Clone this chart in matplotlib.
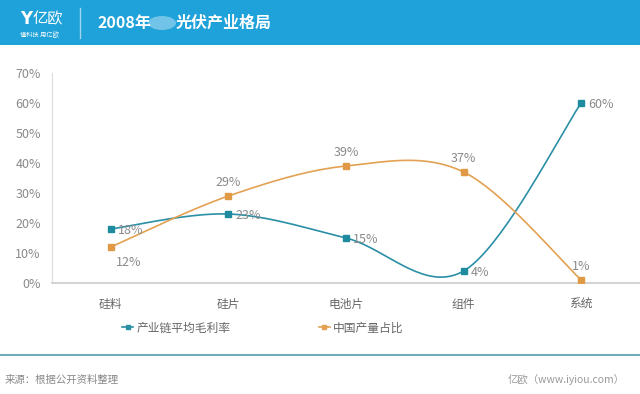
import numpy as np
import matplotlib
matplotlib.use("Agg")
import matplotlib.pyplot as plt
from matplotlib.lines import Line2D
from matplotlib.patches import Rectangle, Ellipse

plt.rcParams['font.family'] = ['Noto Sans CJK SC', 'DejaVu Sans']

categories = ['硅料', '硅片', '电池片', '组件', '系统']
margin = [18, 23, 15, 4, 60]       # 产业链平均毛利率 (%)
china_share = [12, 29, 39, 37, 1]  # 中国产量占比 (%)
series_names = ['产业链平均毛利率', '中国产量占比']
yticks = [0, 10, 20, 30, 40, 50, 60, 70]

BLUE = '#2b8fa6'
BLUE_M = '#1f8b9e'
ORANGE = '#e3a153'
ORANGE_M = '#e09a45'
GRAY = '#8a8a8a'


def smooth(y, n=40):
    """Excel-like smooth line: cubic Bezier with Catmull-Rom tangents."""
    y = np.asarray(y, float)
    x = np.arange(len(y), dtype=float)
    xs, ys = [], []
    for i in range(len(y) - 1):
        p0 = np.array([x[i], y[i]])
        p3 = np.array([x[i + 1], y[i + 1]])
        pm = np.array([x[i - 1], y[i - 1]]) if i > 0 else p0
        pp = np.array([x[i + 2], y[i + 2]]) if i + 2 < len(y) else p3
        c1 = p0 + (p3 - pm) / 6.0
        c2 = p3 - (pp - p0) / 6.0
        t = np.linspace(0, 1, n)[:, None]
        pts = ((1 - t) ** 3) * p0 + 3 * ((1 - t) ** 2) * t * c1 + 3 * (1 - t) * t ** 2 * c2 + t ** 3 * p3
        xs.extend(pts[:, 0]); ys.extend(pts[:, 1])
    return np.array(xs), np.array(ys)


W, H = 640, 394
fig = plt.figure(figsize=(W / 100, H / 100), dpi=100)
fig.patch.set_facecolor('white')

# header band
fig.add_artist(Rectangle((0, 1 - 45 / H), 1, 45 / H, transform=fig.transFigure,
                         facecolor='#1fa1d9', edgecolor='none', zorder=0))
fig.add_artist(Line2D([80 / W, 80 / W], [1 - 38 / H, 1 - 8 / H], transform=fig.transFigure,
                      color='#9fd6ee', lw=1))
fig.text(20 / W, 1 - 19 / H, 'Y', color='white', fontsize=12, fontweight='bold',
         ha='left', va='center', family='DejaVu Sans')
fig.text(33 / W, 1 - 19 / H, '亿欧', color='white', fontsize=11, ha='left', va='center')
fig.text(20 / W, 1 - 35 / H, '懂科技 用亿欧', color='white', fontsize=4.5, ha='left', va='center')
fig.text(97 / W, 1 - 23 / H, '2008年', color='white', fontsize=11.5, fontweight='bold',
         ha='left', va='center')
fig.add_artist(Ellipse((162 / W, 1 - 23 / H), 28 / W, 14 / H, transform=fig.transFigure,
                       facecolor='#a9dcf1', edgecolor='none', alpha=0.6))
fig.text(176 / W, 1 - 23 / H, '光伏产业格局', color='white', fontsize=11.5, fontweight='bold',
         ha='left', va='center')

# plot area
ax = fig.add_axes([52 / W, (H - 283) / H, (640 - 52) / W, (283 - 73) / H])
ax.set_facecolor('none')
x = np.arange(len(categories))

sx, sy = smooth(margin)
ax.plot(sx, sy, color=BLUE, lw=1.2, zorder=3)
ax.plot(x, margin, ls='none', marker='s', ms=4.5, color=BLUE_M, zorder=4)
sx, sy = smooth(china_share)
ax.plot(sx, sy, color=ORANGE, lw=1.2, zorder=3)
ax.plot(x, china_share, ls='none', marker='s', ms=4.5, color=ORANGE_M, zorder=4)

for xi, v in zip(x, margin):
    ax.annotate(f'{v}%', (xi, v), xytext=(5, -1), textcoords='offset points',
                ha='left', va='center', fontsize=9, color=GRAY)
offsets = [(4, -11), (0, 10), (0, 10), (0, 10), (0, 10)]
for xi, v, off in zip(x, china_share, offsets):
    ax.annotate(f'{v}%', (xi, v), xytext=off, textcoords='offset points',
                ha='left' if off[0] > 0 else 'center', va='center', fontsize=9, color=GRAY)

ax.set_xlim(-0.5, len(categories) - 0.5)
ax.set_ylim(0, 70)
ax.set_yticks(yticks)
ax.set_yticklabels([f'{t}%' for t in yticks], fontsize=9, color=GRAY)
ax.set_xticks(x)
ax.set_xticklabels(categories, fontsize=8.5, color='#666666')
ax.tick_params(axis='y', length=0, pad=8)
ax.tick_params(axis='x', length=0, pad=11)
for s in ['top', 'right']:
    ax.spines[s].set_visible(False)
ax.spines['left'].set_color('#dddddd')
ax.spines['bottom'].set_color('#cccccc')
ax.spines['bottom'].set_linewidth(1.2)

handles = [Line2D([], [], color=BLUE, marker='s', ms=3.5, lw=1.2),
           Line2D([], [], color=ORANGE, marker='s', ms=3.5, lw=1.2)]
fig.legend(handles, series_names, loc='center', bbox_to_anchor=(263 / W, (H - 328) / H),
           ncol=2, frameon=False, fontsize=8.5, labelcolor='#666666', handlelength=0.9,
           handletextpad=0.3, columnspacing=7.5)

# footer
fig.add_artist(Line2D([0, 1], [(H - 355) / H] * 2, transform=fig.transFigure,
                      color='#6fabbb', lw=1.5))
fig.text(5 / W, (H - 380) / H, '来源：根据公开资料整理', fontsize=7.5, color='#888888',
         ha='left', va='center')
fig.text(625 / W, (H - 380) / H, '亿欧（www.iyiou.com）', fontsize=7.5, color='#999999',
         ha='right', va='center')

fig.savefig('out.png', dpi=100)
